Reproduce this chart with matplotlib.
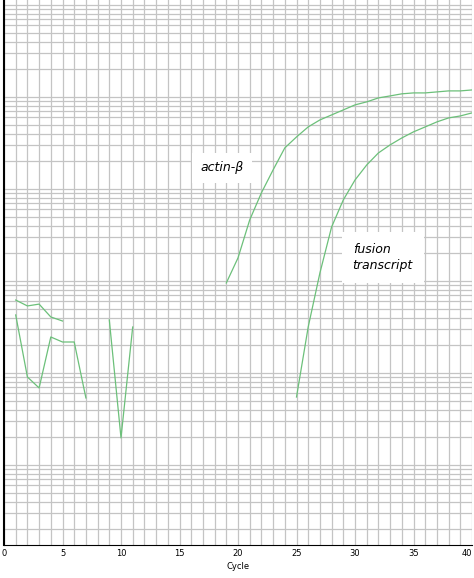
import numpy as np
import matplotlib
matplotlib.use("Agg")
import matplotlib.pyplot as plt
from matplotlib.ticker import LogLocator, MultipleLocator, NullFormatter

noise_a_x = [1, 2, 3, 4, 5]
noise_a_y = [62, 53.5, 56, 40.6, 36.7]
noise_b_x = [1, 2, 3, 4, 5, 6, 7, 8, 9, 10, 11]
noise_b_y = [42.7, 9.05, 6.87, 24.6, 21.7, 21.7, 5.35, np.nan, 37.7, 1.97, 31.6]
actin_x = list(range(19, 41))
actin_y = [95, 178, 460, 906, 1610, 2790, 3670, 4720, 5620, 6370, 7220, 8190, 8830,
           9750, 10250, 10800, 11050, 11050, 11330, 11620, 11620, 11900]
fusion_x = list(range(25, 41))
fusion_y = [5.48, 31.6, 122, 386, 759, 1250, 1820, 2460, 3010, 3580, 4170, 4720,
            5350, 5910, 6210, 6700]
xticks = [0, 5, 10, 15, 20, 25, 30, 35, 40]

fig = plt.figure(figsize=(4.74, 5.78), dpi=100)
ax = fig.add_axes([4/474, 1 - 545/578, 468/474, 545/578])
ax.set_yscale("log")
ax.set_xlim(0, 40)
ax.set_ylim(0.135, 1.13e5)
ax.xaxis.set_minor_locator(MultipleLocator(1))
ax.set_xticks(xticks)
ax.yaxis.set_major_locator(LogLocator(base=10, numticks=20))
ax.yaxis.set_minor_locator(LogLocator(base=10, subs=np.arange(2, 10), numticks=20))
ax.yaxis.set_major_formatter(NullFormatter())
ax.yaxis.set_minor_formatter(NullFormatter())
ax.grid(True, which="both", color="#c4c4c4", lw=0.9)
ax.set_axisbelow(True)
ax.tick_params(axis="y", which="both", length=0)
ax.tick_params(axis="x", which="both", length=0, labelsize=6, pad=3)
ax.get_xticklabels()[-1].set_horizontalalignment("right")
for s in ["top", "right"]:
    ax.spines[s].set_visible(False)
ax.spines["left"].set_linewidth(1.5)
ax.spines["bottom"].set_linewidth(0.8)
ax.set_xlabel("Cycle", fontsize=6, labelpad=3)

c = "#6cc07a"
for xs, ys in [(noise_a_x, noise_a_y), (noise_b_x, noise_b_y), (actin_x, actin_y), (fusion_x, fusion_y)]:
    ax.plot(xs, ys, color=c, lw=0.9)

ax.text(16.8, 1700, "actin-β", fontsize=9, style="italic", va="center",
        bbox=dict(facecolor="white", edgecolor="none", pad=6))
ax.text(29.8, 180, "fusion\ntranscript", fontsize=9, style="italic", va="center",
        linespacing=1.3, bbox=dict(facecolor="white", edgecolor="none", pad=8))

fig.savefig("out.png", dpi=100)
